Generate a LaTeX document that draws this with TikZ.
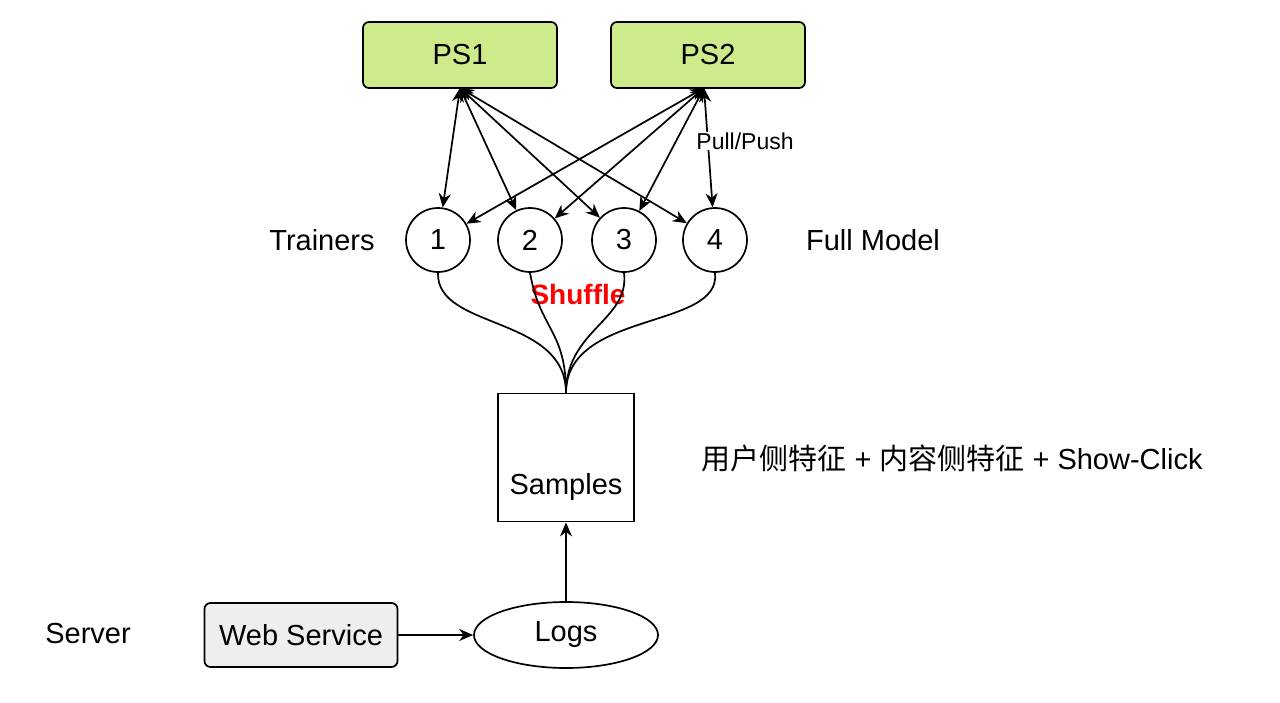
\documentclass[tikz,border=0pt]{standalone}
\usepackage{fontspec}
\setmainfont{Liberation Sans}
\newfontfamily\cjk{Noto Sans CJK SC}
\usetikzlibrary{shapes.geometric,arrows.meta}
\definecolor{psg}{HTML}{CDEB8B}
\definecolor{wsg}{HTML}{EEEEEE}
\begin{document}
\begin{tikzpicture}[x=1pt,y=-1pt,line width=1.7pt,
  txt/.style={font=\fontsize{29}{34}\selectfont},
  ps/.style={draw,fill=psg,rounded corners=6,minimum width=194,minimum height=66,font=\fontsize{29}{34}\selectfont},
  tr/.style={draw,circle,minimum size=64,inner sep=0,font=\fontsize{29}{34}\selectfont},
  ar/.style={-{Stealth[length=14,width=12]}},
  bar/.style={{Stealth[length=14,width=12]}-{Stealth[length=14,width=12]}}]
\useasboundingbox (0,0) rectangle (1280,702);
\node[ps] (ps1) at (460,55) {PS1};
\node[ps] (ps2) at (708,55) {PS2};
\node[tr] (t1) at (438,240) {1};
\node[tr] (t2) at (530,240) {2};
\node[tr] (t3) at (624,240) {3};
\node[tr] (t4) at (715,240) {4};
\node[txt] (trn) at (322,240) {Trainers};
\node[txt] (fm) at (873,240) {Full Model};
\node[font=\fontsize{28}{32}\selectfont\bfseries,text=red] (sh) at (578,294) {Shuffle};
\node[draw,cylinder,shape border rotate=90,aspect=0.3,minimum width=136,minimum height=128,inner sep=0] (smp) at (566,458) {};
\node[txt] (smpl) at (566,487) {Samples};
\node[font=\fontsize{29}{34}\selectfont] (cn) at (952,458) {{\cjk 用户侧特征} + {\cjk 内容侧特征} + Show-Click};
\node[draw,ellipse,minimum width=184,minimum height=66,font=\fontsize{29}{34}\selectfont] (logs) at (566,635) {Logs};
\node[draw,fill=wsg,rounded corners=6,minimum width=193,minimum height=64,font=\fontsize{29}{34}\selectfont] (ws) at (301,635) {Web Service};
\node[txt] (srv) at (88,634) {Server};
\coordinate (p1) at (460,88);
\coordinate (p2) at (704,88);
\foreach \t in {t1,t2,t3,t4}{
  \draw[bar] (p1) -- (\t);
  \draw[bar] (p2) -- (\t);
}
\node[font=\fontsize{23}{26}\selectfont,fill=white,inner sep=1] (pp) at (745,141) {Pull/Push};
\coordinate (top) at (566,393);
\draw (t1.south) .. controls (436,330) and (566,315) .. (top);
\draw (t2.south) .. controls (540,330) and (566,330) .. (top);
\draw (t3.south) .. controls (630,320) and (566,330) .. (top);
\draw (t4.south) .. controls (722,330) and (566,310) .. (top);
\draw[ar] (ws) -- (logs);
\draw[ar] (logs) -- (smp);
\end{tikzpicture}
\end{document}
